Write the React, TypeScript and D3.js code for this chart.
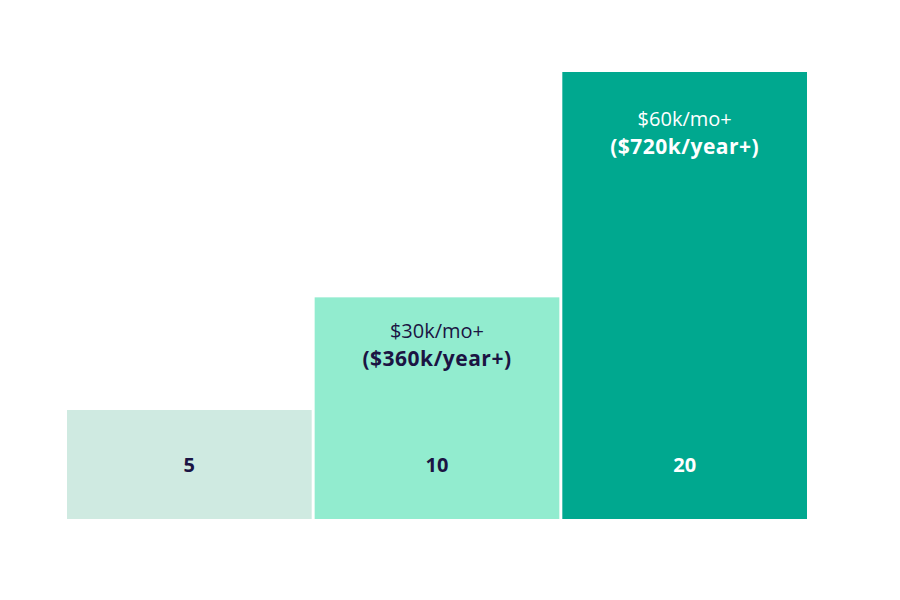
import React from "react";
import * as d3 from "d3";

const categories = ["a", "b", "c"];
const values = [5, 10, 20];
const monthly = ["", "$30k/mo+", "$60k/mo+"];
const yearly = ["", "($360k/year+)", "($720k/year+)"];
const colors = ["#cfeae1", "#92eccf", "#00a88f"];
const textColors = ["#1b1443", "#1b1443", "#ffffff"];

const width = 900;
const height = 600;
const bottom = 519;
// label offsets below each bar top (first line baseline)
const labelOffset = [0, 41, 54];

export default function App() {
  const x = d3.scaleBand().domain(categories).range([67, 807]).paddingInner(0.012);
  const y = d3.scaleLinear().domain([0, 20]).range([522.7, 72]);

  return (
    <svg width={width} height={height} style={{ position: "absolute", left: 0, top: 0, background: "#fff" }}
      fontFamily="'Open Sans', Lato, sans-serif">
      {categories.map((c, i) => {
        const bx = x(c) as number;
        const top = y(values[i]);
        const cx = bx + x.bandwidth() / 2;
        return (
          <g key={c}>
            <rect x={bx} y={top} width={x.bandwidth()} height={bottom - top} fill={colors[i]} />
            <text x={cx} y={471.5} textAnchor="middle" fontSize={20} fontWeight={700} fill={textColors[i]}>
              {values[i]}
            </text>
            {monthly[i] && (
              <text x={cx} y={top + labelOffset[i]} textAnchor="middle" fontSize={20} fill={textColors[i]}>
                {monthly[i]}
              </text>
            )}
            {yearly[i] && (
              <text x={cx} y={top + labelOffset[i] + 28} textAnchor="middle" fontSize={21} fontWeight={700}
                letterSpacing={0.5} fill={textColors[i]}>
                {yearly[i]}
              </text>
            )}
          </g>
        );
      })}
    </svg>
  );
}
